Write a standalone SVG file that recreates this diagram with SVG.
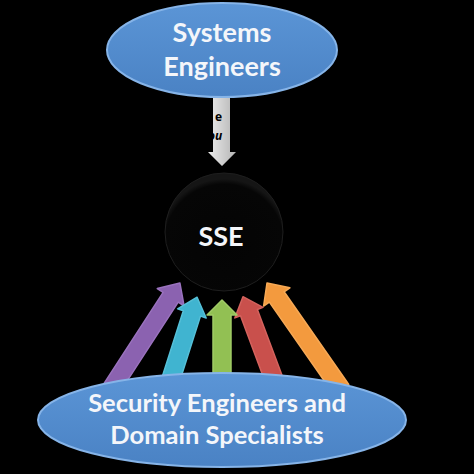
<svg xmlns="http://www.w3.org/2000/svg" width="474" height="474" viewBox="0 0 474 474">
  <defs>
    <linearGradient id="gBlue" x1="0" y1="0" x2="0" y2="1">
      <stop offset="0" stop-color="#5b95d6"/>
      <stop offset="1" stop-color="#4a82c4"/>
    </linearGradient>
    <linearGradient id="gGray" x1="0" y1="0" x2="1" y2="0">
      <stop offset="0" stop-color="#ececec"/>
      <stop offset="1" stop-color="#b4b4b4"/>
    </linearGradient>
    <radialGradient id="gCircle" cx="0.5" cy="0.6" r="0.55">
      <stop offset="0" stop-color="#040404"/>
      <stop offset="0.92" stop-color="#060606"/>
      <stop offset="1" stop-color="#151515"/>
    </radialGradient>
  </defs>
  <style>
    .ell { fill: url(#gBlue); stroke: #86b4e8; stroke-width: 2; }
    .lbl { font-family: Lato, "Open Sans", "Liberation Sans", sans-serif; font-weight: bold; fill: #f4f6fa; text-anchor: middle; }
    .arr { stroke-width: 1.5; stroke-linejoin: round; }
    .hid { font-family: "Open Sans", "Liberation Sans", sans-serif; font-weight: bold; fill: #000; font-size: 12px; }
  </style>
  <rect x="0" y="0" width="474" height="474" fill="#000"/>

  <g id="connectors">
    <g id="arrow-down">
      <polygon points="213,96 230,96 230,152 236,152 222,166 208,152 213,152" fill="url(#gGray)"/>
      <text class="hid" x="206" y="121">s e</text>
      <text class="hid" x="208" y="140" font-style="italic">ou</text>
    </g>
    <g id="arrows-up">
      <polygon class="arr" fill="#8b62b0" stroke="#9a72be" transform="translate(111.3,388.7) rotate(33)" points="-9,0 -9,-109 -16,-109 0,-126 16,-109 9,-109 9,0"/>
      <polygon class="arr" fill="#f39a3e" stroke="#f7a955" transform="translate(341.4,389.6) rotate(-34.9)" points="-9,0 -9,-113 -16,-113 0,-130 16,-113 9,-113 9,0"/>
      <polygon class="arr" fill="#40b4d0" stroke="#55c0d8" transform="translate(170,382) rotate(17.7)" points="-9,0 -9,-72 -15,-72 0,-89 15,-72 9,-72 9,0"/>
      <polygon class="arr" fill="#c9504c" stroke="#d4625d" transform="translate(274.5,381) rotate(-20.5)" points="-9,0 -9,-73 -15,-73 0,-90 15,-73 9,-73 9,0"/>
      <polygon class="arr" fill="#92c053" stroke="#a0ca65" transform="translate(222,382)" points="-9,0 -9,-67 -15,-67 0,-82 15,-67 9,-67 9,0"/>
    </g>
  </g>

  <g id="node-sse">
    <circle cx="224" cy="232" r="59" fill="url(#gCircle)" stroke="#1e1e1e" stroke-width="1"/>
    <text class="lbl" x="221" y="246" font-size="27">SSE</text>
  </g>

  <g id="node-systems-engineers">
    <ellipse class="ell" cx="222" cy="50" rx="115" ry="47"/>
    <text class="lbl" x="222" y="42" font-size="27">Systems</text>
    <text class="lbl" x="222" y="76" font-size="27">Engineers</text>
  </g>

  <g id="node-security-engineers">
    <ellipse class="ell" cx="222" cy="420" rx="184" ry="47"/>
    <text class="lbl" x="217" y="412" font-size="25.5">Security Engineers and</text>
    <text class="lbl" x="217" y="444" font-size="25.5">Domain Specialists</text>
  </g>
</svg>
